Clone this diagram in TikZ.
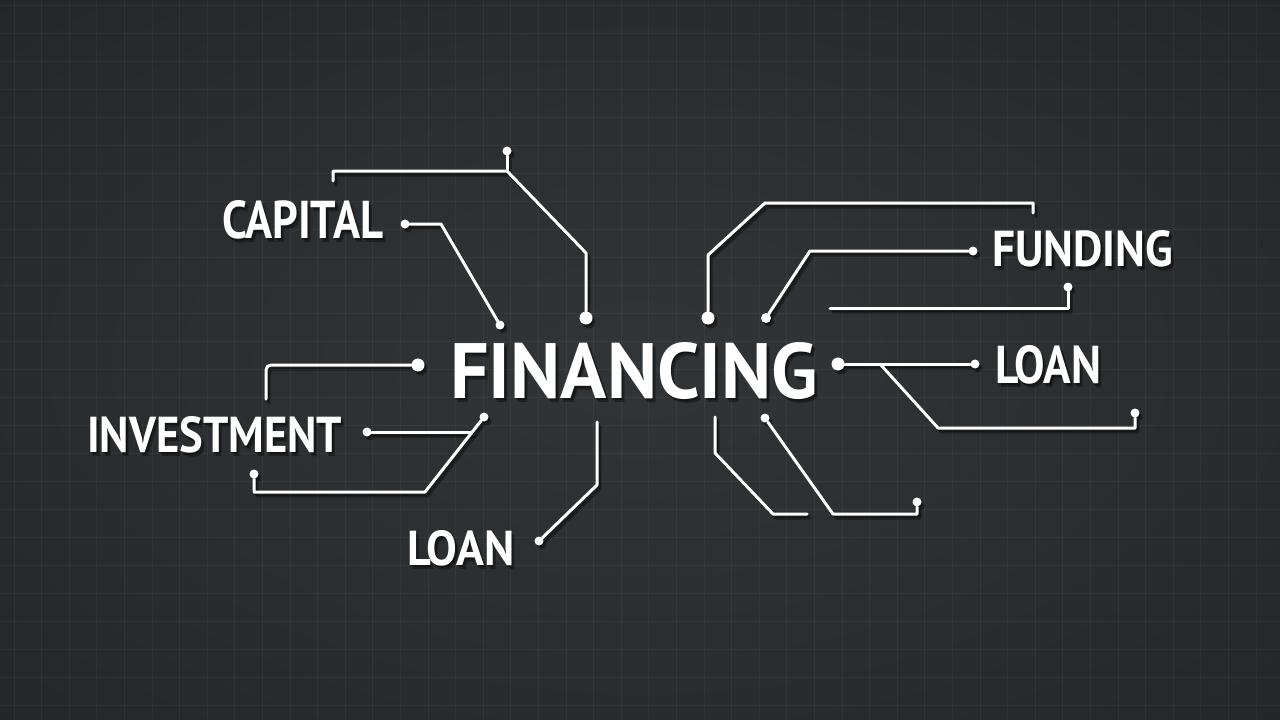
\documentclass[tikz,border=0pt]{standalone}
\usepackage{fontspec}
\setmainfont{PT Sans}
\usepackage{graphicx}
\definecolor{bgc}{HTML}{313538}
\definecolor{bgm}{HTML}{2A2D30}
\definecolor{bge}{HTML}{202325}
\definecolor{bgk}{HTML}{17191B}
\pgfdeclareradialshading{vign}{\pgfpoint{0bp}{0bp}}{color(0bp)=(bgc); color(22bp)=(bgm); color(45bp)=(bge); color(72bp)=(bgk)}
\tikzset{
  wl/.style={line width=3pt, line cap=round, line join=round},
  bigdot/.style={circle, inner sep=0pt, minimum size=13pt},
  smalldot/.style={circle, inner sep=0pt, minimum size=9pt},
  txt/.style={inner sep=0pt, anchor=north west, font=\bfseries},
  gridl/.style={draw=white, draw opacity=0.045, line width=1pt}
}
\newcommand\netlayer[2]{%
  % dots
  \node[bigdot, fill=#2] (#1-bA) at (586,318) {};
  \node[bigdot, fill=#2] (#1-bB) at (708,318) {};
  \node[bigdot, fill=#2] (#1-bC) at (838,364) {};
  \node[bigdot, fill=#2] (#1-bD) at (418,365) {};
  \node[smalldot, fill=#2] (#1-cap) at (405,224) {};
  \node[smalldot, fill=#2] (#1-capE) at (500,325) {};
  \node[smalldot, fill=#2] (#1-top) at (507,151) {};
  \node[smalldot, fill=#2] (#1-fun) at (973,251) {};
  \node[smalldot, minimum size=10pt, fill=#2] (#1-funS) at (766,318) {};
  \node[smalldot, fill=#2] (#1-f2) at (1068,287) {};
  \node[smalldot, fill=#2] (#1-ln) at (975,364) {};
  \node[smalldot, fill=#2] (#1-r2) at (1135,413) {};
  \node[smalldot, fill=#2] (#1-r3) at (765,418) {};
  \node[smalldot, fill=#2] (#1-r4) at (917,502) {};
  \node[smalldot, fill=#2] (#1-inv) at (367,432) {};
  \node[smalldot, fill=#2] (#1-i2) at (484,417) {};
  \node[smalldot, fill=#2] (#1-i3) at (254,474) {};
  \node[smalldot, fill=#2] (#1-lb) at (539,541) {};
  % free ends and junctions
  \coordinate (#1-e1) at (333,181);
  \coordinate (#1-e2) at (1033,213);
  \coordinate (#1-e3) at (830,308);
  \coordinate (#1-e4) at (715,417);
  \coordinate (#1-e5) at (807,514);
  \coordinate (#1-e6) at (266,399);
  \coordinate (#1-e7) at (472,432);
  \coordinate (#1-e8) at (597,422);
  \coordinate (#1-j1) at (507,171);
  \coordinate (#1-j2) at (880,364);
  % connectors
  \draw[wl, draw=#2] (#1-e1) -- (333,171) -- (#1-j1) -- (586,253) -- (#1-bA);
  \draw[wl, draw=#2] (#1-j1) -- (#1-top);
  \draw[wl, draw=#2] (#1-cap) -- (441,224) -- (#1-capE);
  \draw[wl, draw=#2] (#1-bB) -- (708,255) -- (765,203) -- (1033,203) -- (#1-e2);
  \draw[wl, draw=#2] (#1-funS) -- (810,251) -- (#1-fun);
  \draw[wl, draw=#2] (#1-e3) -- (1068,308) -- (#1-f2);
  \draw[wl, draw=#2] (#1-bC) -- (#1-ln);
  \draw[wl, draw=#2] (#1-j2) -- (938,428) -- (1135,428) -- (#1-r2);
  \draw[wl, draw=#2] (#1-e4) -- (715,453) -- (773,514) -- (#1-e5);
  \draw[wl, draw=#2] (#1-r3) -- (833,514) -- (917,514) -- (#1-r4);
  \draw[wl, draw=#2, rounded corners=5pt] (#1-bD) -- (266,365) -- (#1-e6);
  \draw[wl, draw=#2] (#1-inv) -- (#1-e7);
  \draw[wl, draw=#2] (#1-i2) -- (425,492) -- (254,492) -- (#1-i3);
  \draw[wl, draw=#2] (#1-e8) -- (597,485) -- (#1-lb);
  % texts
  \node[txt, text=#2] (#1-tFin) at (450,342) {\resizebox{368pt}{56pt}{FINANCING}};
  \node[txt, text=#2] (#1-tCap) at (222,200) {\resizebox{161pt}{38pt}{CAPITAL}};
  \node[txt, text=#2] (#1-tFun) at (992,230) {\resizebox{181pt}{36pt}{FUNDING}};
  \node[txt, text=#2] (#1-tLnR) at (995,345) {\resizebox{106pt}{38pt}{LOAN}};
  \node[txt, text=#2] (#1-tInv) at (87,416) {\resizebox{255pt}{36pt}{INVESTMENT}};
  \node[txt, text=#2] (#1-tLnB) at (407,530) {\resizebox{107pt}{35pt}{LOAN}};
}
\begin{document}
\begin{tikzpicture}[x=1pt, y=-1pt]
  \useasboundingbox (0,0) rectangle (1280,720);
  \fill[shading=vign] (0,0) rectangle (1280,720);
  \foreach \gx in {14,41.6,...,1280} \draw[gridl] (\gx,0) -- (\gx,720);
  \foreach \gy in {5,33,...,720} \draw[gridl] (0,\gy) -- (1280,\gy);
  \begin{scope}[shift={(3,4)}, opacity=0.35]
    \netlayer{s}{black}
  \end{scope}
  \begin{scope}[shift={(1.5,2)}, opacity=0.35]
    \netlayer{t}{black}
  \end{scope}
  \netlayer{w}{white}
\end{tikzpicture}
\end{document}
